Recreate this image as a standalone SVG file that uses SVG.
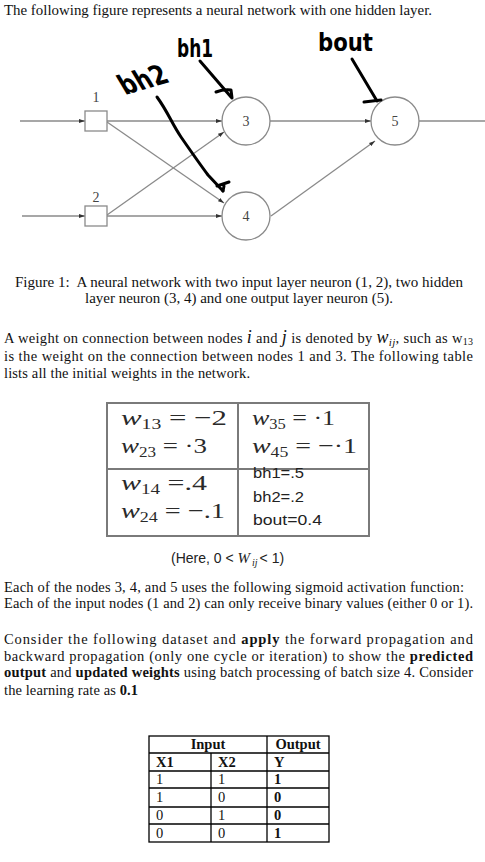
<svg xmlns="http://www.w3.org/2000/svg" width="485" height="862" viewBox="0 0 485 862">
<defs>
<style>
.t{font-family:"Liberation Serif","Times New Roman",serif;font-size:14.5px;fill:#111}
.b{font-weight:bold}
.i{font-style:italic}
.lbl{font-family:"Liberation Serif",serif;font-size:14px;fill:#444;text-anchor:middle}
.nd{fill:#fff;stroke:#8a8a8a;stroke-width:1.3}
.cn{fill:none;stroke:#8a8a8a;stroke-width:1.3}
.hw{fill:none;stroke:#000;stroke-width:3;stroke-linecap:round;stroke-linejoin:round}
.hwt{font-family:"DejaVu Sans",sans-serif;font-weight:bold;fill:#000}
.m{font-family:"Liberation Serif",serif;font-size:22px;fill:#2a2a2a}
.s{font-family:"Liberation Sans",Arial,sans-serif;font-size:14px;fill:#222}
.tb{fill:none;stroke:#7a7a7a;stroke-width:2}
.dt{fill:none;stroke:#000;stroke-width:1.3}
</style>
<marker id="ah" viewBox="0 0 6 4" refX="6" refY="2" markerWidth="6" markerHeight="4" orient="auto" markerUnits="userSpaceOnUse"><path d="M0,0 L6,2 L0,4 z" fill="#333"/></marker>
</defs>
<rect width="485" height="862" fill="#fff"/>

<text class="t" x="4" y="15" textLength="428" lengthAdjust="spacingAndGlyphs">The following figure represents a neural network with one hidden layer.</text>

<g id="connectors">
<path class="cn" d="M20,121 H85" marker-end="url(#ah)"/>
<path class="cn" d="M107,121 H222" marker-end="url(#ah)"/>
<path class="cn" d="M270,121 H371" marker-end="url(#ah)"/>
<path class="cn" d="M419,121 H485"/>
<path class="cn" d="M22,216 H85" marker-end="url(#ah)"/>
<path class="cn" d="M107,216 H222" marker-end="url(#ah)"/>
<path class="cn" d="M107,122 L224,203" marker-end="url(#ah)"/>
<path class="cn" d="M107,215 L224,132" marker-end="url(#ah)"/>
<path class="cn" d="M271,216 L375,141" marker-end="url(#ah)"/>
</g>

<g id="n1"><rect class="nd" x="85" y="111" width="22" height="20"/><text class="lbl" x="96" y="102">1</text></g>
<g id="n2"><rect class="nd" x="85" y="206" width="22" height="20"/><text class="lbl" x="96" y="202">2</text></g>
<g id="n3"><circle class="nd" cx="246" cy="121" r="24"/><text class="lbl" x="246" y="126">3</text></g>
<g id="n4"><circle class="nd" cx="246" cy="216" r="24"/><text class="lbl" x="246" y="221">4</text></g>
<g id="n5"><circle class="nd" cx="395" cy="121" r="24"/><text class="lbl" x="395" y="126">5</text></g>

<g id="annotations">
<text class="hwt" x="177" y="57" font-size="25" textLength="36" lengthAdjust="spacingAndGlyphs">bh1</text>
<path class="hw" d="M200,61 L231,97"/>
<path class="hw" d="M216,92 Q224,89 231,90 L232,98"/>
<text class="hwt" font-size="28" transform="translate(125,95) rotate(-16) skewX(15)" textLength="48" lengthAdjust="spacingAndGlyphs">bh2</text>
<path class="hw" d="M157,97 C168,112 172,124 181,137 S199,163 208,175 L223,191"/>
<path class="hw" d="M217,186 L229,182 M223,191 L224,186"/>
<text class="hwt" x="318" y="51" font-size="25" textLength="55" lengthAdjust="spacingAndGlyphs">bout</text>
<path class="hw" d="M352,59 L377,101"/>
<path class="hw" d="M364,102 L381,100"/>
</g>

<text class="t" x="15" y="287" textLength="448" lengthAdjust="spacingAndGlyphs">Figure 1:&#160; A neural network with two input layer neuron (1, 2), two hidden</text>
<text class="t" x="85" y="303" textLength="308" lengthAdjust="spacingAndGlyphs">layer neuron (3, 4) and one output layer neuron (5).</text>

<text class="t" x="4" y="343" textLength="469" lengthAdjust="spacing">A weight on connection between nodes <tspan class="i" font-size="18">i</tspan> and <tspan class="i" font-size="18">j</tspan> is denoted by <tspan class="i" font-size="18">w</tspan><tspan class="i" font-size="11" dy="3">ij</tspan><tspan dy="-3">, such as w</tspan><tspan font-size="10" dy="2">13</tspan></text>
<text class="t" x="4" y="361" textLength="469" lengthAdjust="spacing">is the weight on the connection between nodes 1 and 3. The following table</text>
<text class="t" x="4" y="378" textLength="246" lengthAdjust="spacing">lists all the initial weights in the network.</text>

<g id="weights">
<rect class="tb" x="107" y="403" width="262" height="133"/>
<line class="tb" x1="238" y1="403" x2="238" y2="536"/>
<line class="tb" x1="107" y1="469" x2="369" y2="469"/>
<text class="m" x="121" y="425" textLength="106" lengthAdjust="spacingAndGlyphs"><tspan class="i">w</tspan><tspan font-size="14" dy="4">13</tspan><tspan dy="-4"> = −2</tspan></text>
<text class="m" x="121" y="453" textLength="86" lengthAdjust="spacingAndGlyphs"><tspan class="i">w</tspan><tspan font-size="14" dy="4">23</tspan><tspan dy="-4"> = ·3</tspan></text>
<text class="m" x="252" y="425" textLength="83" lengthAdjust="spacingAndGlyphs"><tspan class="i">w</tspan><tspan font-size="14" dy="4">35</tspan><tspan dy="-4"> = ·1</tspan></text>
<text class="m" x="252" y="453" textLength="105" lengthAdjust="spacingAndGlyphs"><tspan class="i">w</tspan><tspan font-size="14" dy="4">45</tspan><tspan dy="-4"> = −·1</tspan></text>
<text class="m" x="121" y="490" textLength="86" lengthAdjust="spacingAndGlyphs"><tspan class="i">w</tspan><tspan font-size="14" dy="4">14</tspan><tspan dy="-4"> =.4</tspan></text>
<text class="m" x="121" y="518" textLength="104" lengthAdjust="spacingAndGlyphs"><tspan class="i">w</tspan><tspan font-size="14" dy="4">24</tspan><tspan dy="-4"> = −.1</tspan></text>
<text class="s" x="253" y="478" textLength="51" lengthAdjust="spacingAndGlyphs">bh1=.5</text>
<text class="s" x="253" y="502" textLength="51" lengthAdjust="spacingAndGlyphs">bh2=.2</text>
<text class="s" x="253" y="525" textLength="69" lengthAdjust="spacingAndGlyphs">bout=0.4</text>
<text class="s" x="171" y="563" font-size="13">(Here, 0 &lt; <tspan font-family="Liberation Serif" class="i" font-size="15">W</tspan><tspan font-family="Liberation Serif" class="i" font-size="10" dx="2" dy="3">ij</tspan><tspan dx="2" dy="-3">&lt; 1)</tspan></text>
</g>

<text class="t" x="4" y="592" textLength="460" lengthAdjust="spacing">Each of the nodes 3, 4, and 5 uses the following sigmoid activation function:</text>
<text class="t" x="4" y="608" textLength="469" lengthAdjust="spacing">Each of the input nodes (1 and 2) can only receive binary values (either 0 or 1).</text>
<text class="t" x="4" y="644" textLength="469" lengthAdjust="spacing">Consider the following dataset and <tspan class="b">apply</tspan> the forward propagation and</text>
<text class="t" x="4" y="661" textLength="469" lengthAdjust="spacing">backward propagation (only one cycle or iteration) to show the <tspan class="b">predicted</tspan></text>
<text class="t" x="4" y="677" textLength="469" lengthAdjust="spacing"><tspan class="b">output</tspan> and <tspan class="b">updated weights</tspan> using batch processing of batch size 4. Consider</text>
<text class="t" x="4" y="695" textLength="134" lengthAdjust="spacing">the learning rate as <tspan class="b">0.1</tspan></text>

<g id="dataset">
<rect class="dt" x="149" y="736" width="180" height="106"/>
<line class="dt" x1="267" y1="736" x2="267" y2="842"/>
<line class="dt" x1="211" y1="753" x2="211" y2="842"/>
<line class="dt" x1="149" y1="753" x2="329" y2="753"/>
<line class="dt" x1="149" y1="771" x2="329" y2="771"/>
<line class="dt" x1="149" y1="788" x2="329" y2="788"/>
<line class="dt" x1="149" y1="807" x2="329" y2="807"/>
<line class="dt" x1="149" y1="824" x2="329" y2="824"/>
<text class="t b" x="208" y="749" text-anchor="middle">Input</text>
<text class="t b" x="298" y="749" text-anchor="middle">Output</text>
<text class="t b" x="156" y="767">X1</text>
<text class="t b" x="218" y="767">X2</text>
<text class="t b" x="274" y="767">Y</text>
<text class="t" x="156" y="784">1</text><text class="t" x="218" y="784">1</text><text class="t b" x="274" y="784">1</text>
<text class="t" x="156" y="802">1</text><text class="t" x="218" y="802">0</text><text class="t b" x="274" y="802">0</text>
<text class="t" x="156" y="820">0</text><text class="t" x="218" y="820">1</text><text class="t b" x="274" y="820">0</text>
<text class="t" x="156" y="838">0</text><text class="t" x="218" y="838">0</text><text class="t b" x="274" y="838">1</text>
</g>
</svg>
